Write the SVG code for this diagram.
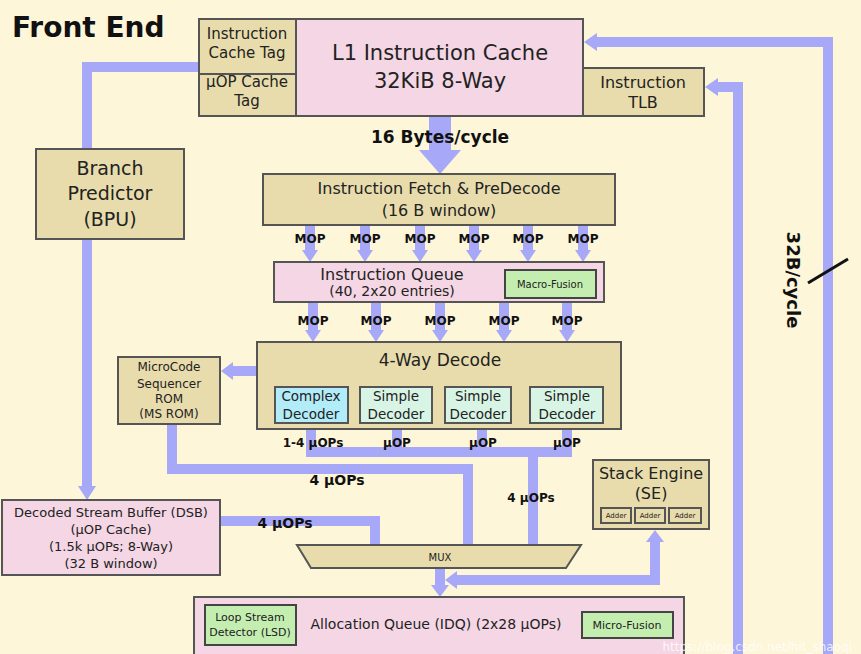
<svg xmlns="http://www.w3.org/2000/svg" width="861" height="654" viewBox="0 0 861 654">
<style>
text{font-family:"DejaVu Sans","Noto Sans",sans-serif;fill:#222;text-anchor:middle}
.tan{fill:#e8dcac;stroke:#555;stroke-width:2}
.pink{fill:#f4d6e4;stroke:#555;stroke-width:2}
.grn{fill:#c4eeb0;stroke:#444;stroke-width:2}
.smp{fill:#d8f4e4;stroke:#555;stroke-width:2}
.cpx{fill:#b2ecf8;stroke:#555;stroke-width:2}
.w{fill:none;stroke:#a8a8f8;stroke-width:10}
.ah{fill:#a8a8f8}
.b{font-weight:bold;font-size:12px;fill:#111}
</style>
<rect width="861" height="654" fill="#fdf6d8"/>
<text x="12" y="37" style="text-anchor:start;font-weight:bold;font-size:28px;fill:#111">Front End</text>
<g id="connectors">
<path class="w" d="M199,67 H87 V149 M87,239 V488"/>
<polygon class="ah" points="78,486 96,486 87,500"/>
<rect x="429" y="116" width="22" height="36" class="ah"/>
<polygon class="ah" points="419,150 461,150 440,174"/>
<path class="w" d="M310,225V252 M365,225V252 M420,225V252 M474,225V252 M528,225V252 M583,225V252"/>
<g class="ah"><polygon points="302,250 318,250 310,262"/><polygon points="357,250 373,250 365,262"/><polygon points="412,250 428,250 420,262"/><polygon points="466,250 482,250 474,262"/><polygon points="520,250 536,250 528,262"/><polygon points="575,250 591,250 583,262"/></g>
<path class="w" d="M313,302V332 M376,302V332 M440,302V332 M504,302V332 M567,302V332"/>
<g class="ah"><polygon points="305,330 321,330 313,342"/><polygon points="368,330 384,330 376,342"/><polygon points="432,330 448,330 440,342"/><polygon points="496,330 512,330 504,342"/><polygon points="559,330 575,330 567,342"/></g>
<path class="w" d="M257,371H232"/>
<polygon class="ah" points="233,362 233,380 221,371"/>
<path class="w" d="M311,423V452 M397,423V452 M482,423V452 M567,423V452 M306,452H572 M533,452V545"/>
<path class="w" d="M172,424V469H468V545"/>
<path class="w" d="M220,521H375V545"/>
<path class="w" d="M440,568V587"/>
<polygon class="ah" points="431,585 449,585 440,597"/>
<path class="w" d="M655,541V580H455"/>
<polygon class="ah" points="457,571 457,589 445,580"/>
<polygon class="ah" points="646,542 664,542 655,530"/>
<path class="w" d="M828,654V42H596"/>
<polygon class="ah" points="597,33 597,51 584,42"/>
<path class="w" d="M738,654V87H717"/>
<polygon class="ah" points="718,78 718,96 705,87"/>
<line x1="808" y1="283" x2="848" y2="259" stroke="#111" stroke-width="3"/>
<text transform="translate(787,280) rotate(90)" style="font-weight:bold;font-size:18px;fill:#111">32B/cycle</text>
<text x="440" y="143" style="font-weight:bold;font-size:17px;fill:#111">16 Bytes/cycle</text>
<g class="b"><text x="310" y="243" class="b">MOP</text><text x="365" y="243" class="b">MOP</text><text x="420" y="243" class="b">MOP</text><text x="474" y="243" class="b">MOP</text><text x="528" y="243" class="b">MOP</text><text x="583" y="243" class="b">MOP</text>
<text x="313" y="325" class="b">MOP</text><text x="376" y="325" class="b">MOP</text><text x="440" y="325" class="b">MOP</text><text x="504" y="325" class="b">MOP</text><text x="567" y="325" class="b">MOP</text>
<text x="313" y="447" class="b">1-4 µOPs</text><text x="397" y="447" class="b">µOP</text><text x="483" y="447" class="b">µOP</text><text x="567" y="447" class="b">µOP</text>
<text x="337" y="485" class="b" style="font-size:14px">4 µOPs</text><text x="531" y="502" class="b">4 µOPs</text><text x="285" y="528" class="b" style="font-size:14px">4 µOPs</text></g>
</g>
<g id="l1">
<rect x="199" y="19" width="97" height="55" class="tan"/><text x="247" y="39" font-size="15">Instruction</text><text x="247" y="58" font-size="15">Cache Tag</text>
<rect x="199" y="74" width="97" height="42" class="tan"/><text x="247" y="87" font-size="15">µOP Cache</text><text x="247" y="106" font-size="15">Tag</text>
<rect x="296" y="19" width="287" height="97" class="pink"/><text x="440" y="60" font-size="21">L1 Instruction Cache</text><text x="440" y="88" font-size="21">32KiB 8-Way</text>
</g>
<g id="tlb"><rect x="583" y="68" width="121" height="48" class="tan"/><text x="643" y="88" font-size="16">Instruction</text><text x="643" y="108" font-size="16">TLB</text></g>
<g id="bpu"><rect x="36" y="149" width="148" height="90" class="tan"/><text x="110" y="175" font-size="19">Branch</text><text x="110" y="200" font-size="19">Predictor</text><text x="110" y="226" font-size="19">(BPU)</text></g>
<g id="fetch"><rect x="263" y="174" width="352" height="51" class="tan"/><text x="439" y="194" font-size="16" fill="#333">Instruction Fetch &amp; PreDecode</text><text x="439" y="216" font-size="16" fill="#333">(16 B window)</text></g>
<g id="iq"><rect x="274" y="262" width="330" height="40" class="pink"/><text x="392" y="280" font-size="16">Instruction Queue</text><text x="392" y="296" font-size="14">(40, 2x20 entries)</text>
<rect x="505" y="270" width="91" height="28" class="grn"/><text x="550" y="288" font-size="10">Macro-Fusion</text></g>
<g id="decode"><rect x="257" y="342" width="364" height="87" class="tan"/><text x="440" y="366" font-size="17">4-Way Decode</text>
<g font-size="13.5"><rect x="275" y="387" width="73" height="36" class="cpx"/><text x="311" y="401">Complex</text><text x="311" y="419">Decoder</text>
<rect x="360" y="387" width="72" height="36" class="smp"/><text x="396" y="401">Simple</text><text x="396" y="419">Decoder</text>
<rect x="445" y="387" width="66" height="36" class="smp"/><text x="478" y="401">Simple</text><text x="478" y="419">Decoder</text>
<rect x="530" y="387" width="73" height="36" class="smp"/><text x="567" y="401">Simple</text><text x="567" y="419">Decoder</text></g></g>
<g id="msrom"><rect x="118" y="357" width="102" height="67" class="tan"/><g font-size="12"><text x="169" y="371">MicroCode</text><text x="169" y="388">Sequencer</text><text x="169" y="403">ROM</text><text x="169" y="418">(MS ROM)</text></g></g>
<g id="dsb"><rect x="2" y="500" width="218" height="75" class="pink"/><g font-size="13"><text x="111" y="517">Decoded Stream Buffer (DSB)</text><text x="111" y="534">(µOP Cache)</text><text x="111" y="551">(1.5k µOPs; 8-Way)</text><text x="111" y="568">(32 B window)</text></g></g>
<g id="mux"><polygon points="297,545 581,545 566,568 311,568" class="tan"/><text x="440" y="561" font-size="10">MUX</text></g>
<g id="se"><rect x="593" y="460" width="116" height="69" class="tan"/><text x="651" y="479" font-size="16">Stack Engine</text><text x="651" y="499" font-size="16">(SE)</text>
<g font-size="7"><rect x="601" y="508" width="30" height="15" class="tan" stroke-width="1"/><text x="616" y="518">Adder</text><rect x="635" y="508" width="30" height="15" class="tan" stroke-width="1"/><text x="650" y="518">Adder</text><rect x="669" y="508" width="32" height="15" class="tan" stroke-width="1"/><text x="685" y="518">Adder</text></g></g>
<g id="idq"><rect x="194" y="597" width="490" height="62" class="pink"/><text x="436" y="629" font-size="14">Allocation Queue (IDQ) (2x28 µOPs)</text>
<rect x="205" y="605" width="91" height="40" class="grn"/><text x="250" y="621" font-size="11">Loop Stream</text><text x="250" y="636" font-size="11">Detector (LSD)</text>
<rect x="582" y="612" width="91" height="26" class="grn"/><text x="627" y="629" font-size="11">Micro-Fusion</text></g>
<text x="852" y="651" style="text-anchor:end;font-size:12px;fill:#fff;fill-opacity:0.8">https://blog.csdn.net/hit_shaoqi</text>
</svg>
